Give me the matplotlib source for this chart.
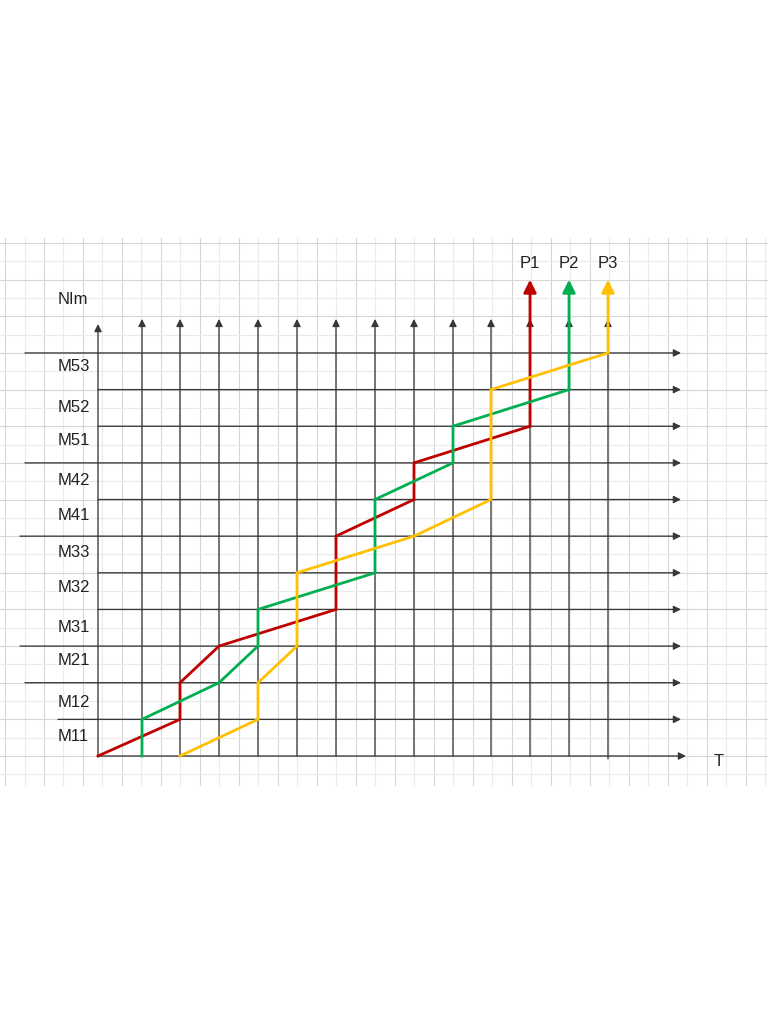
import numpy as np
import matplotlib.pyplot as plt

# time columns (distance from the first vertical axis) and level count
t_cols = [0, 44, 82, 121, 160, 199, 238, 277, 316, 355, 393, 432, 471, 510]
n_levels = 12  # horizontal lines, level 0 is the time axis

level_names = ["M11", "M12", "M21", "M31", "M32", "M33",
               "M41", "M42", "M51", "M52", "M53"]
name_pos = [0.52, 1.45, 2.6, 3.5, 4.6, 5.55, 6.57, 7.52, 8.6, 9.5, 10.62]

# left end of every horizontal line (levels 0..11)
line_start = [0, -40, -73, -78, 0, 0, -78, 0, -73, 0, 0, -73]

# routes as (column index, level)
p1_cols = [0, 2, 2, 3, 6, 6, 8, 8, 11, 11]
p1_lvls = [0, 1, 2, 3, 4, 6, 7, 8, 9, 13]
p2_cols = [1, 1, 3, 4, 4, 7, 7, 9, 9, 12, 12]
p2_lvls = [0, 1, 2, 3, 4, 5, 7, 8, 9, 10, 13]
p3_cols = [2, 4, 4, 5, 5, 8, 10, 10, 13, 13]
p3_lvls = [0, 1, 2, 3, 5, 6, 7, 10, 11, 13]

routes = [("P1", p1_cols, p1_lvls, "#c00000"),
          ("P2", p2_cols, p2_lvls, "#00b050"),
          ("P3", p3_cols, p3_lvls, "#ffc000")]

fig = plt.figure(figsize=(7.68, 10.24), dpi=100)
ax = fig.add_axes([0, 0, 1, 1])
ax.set_xlim(-98, 670)
ax.set_ylim(-7.314, 20.633)
ax.axis("off")

font = dict(family=["Liberation Sans", "DejaVu Sans"], fontsize=12, color="#222222")
black = "#383838"

# graph paper background
for k in range(-2, 38):
    x = 44 + 19.49 * k - 98
    ax.plot([x, x], [-0.79, 14.14], color="#d6d6d6" if k % 2 == 0 else "#ebebeb",
            lw=0.8, zorder=0)
for k in range(-1, 29):
    ax.plot([-98, 670], [k / 2, k / 2], color="#d6d6d6" if k % 2 == 0 else "#ebebeb",
            lw=0.8, zorder=0)

# horizontal level lines with arrows
for lvl in range(n_levels):
    x_end = 588 if lvl == 0 else 583
    ax.annotate("", xy=(x_end, lvl), xytext=(line_start[lvl], lvl),
                arrowprops=dict(arrowstyle="-|>", color=black, lw=0.95,
                                mutation_scale=11, shrinkA=0, shrinkB=0),
                zorder=1)

# vertical time lines with arrows
for i, t in enumerate(t_cols):
    top = 11.79 if i == 0 else 11.93
    bottom = -0.08 if i == len(t_cols) - 1 else 0
    ax.annotate("", xy=(t, top), xytext=(t, bottom),
                arrowprops=dict(arrowstyle="-|>", color=black, lw=0.95,
                                mutation_scale=11, shrinkA=0, shrinkB=0),
                zorder=1)

# level names
for name, pos in zip(level_names, name_pos):
    ax.text(-40, pos, name, ha="left", va="center", **font)

ax.text(-25, 12.45, "NIm", ha="center", va="center", **font)
ax.text(621, -0.16, "T", ha="center", va="center", **font)

# routes
for label, cols, lvls, color in routes:
    xs = [t_cols[c] for c in cols]
    ax.plot(xs[:-1], lvls[:-1], color=color, lw=2, zorder=3,
            solid_joinstyle="miter")
    ax.annotate("", xy=(xs[-1], lvls[-1]), xytext=(xs[-2], lvls[-2]),
                arrowprops=dict(arrowstyle="-|>", color=color, lw=2,
                                mutation_scale=19, shrinkA=0, shrinkB=0),
                zorder=3)
    ax.text(xs[-1], 13.45, label, ha="center", va="center", **font)

fig.savefig("out.png", dpi=100, facecolor="white")
